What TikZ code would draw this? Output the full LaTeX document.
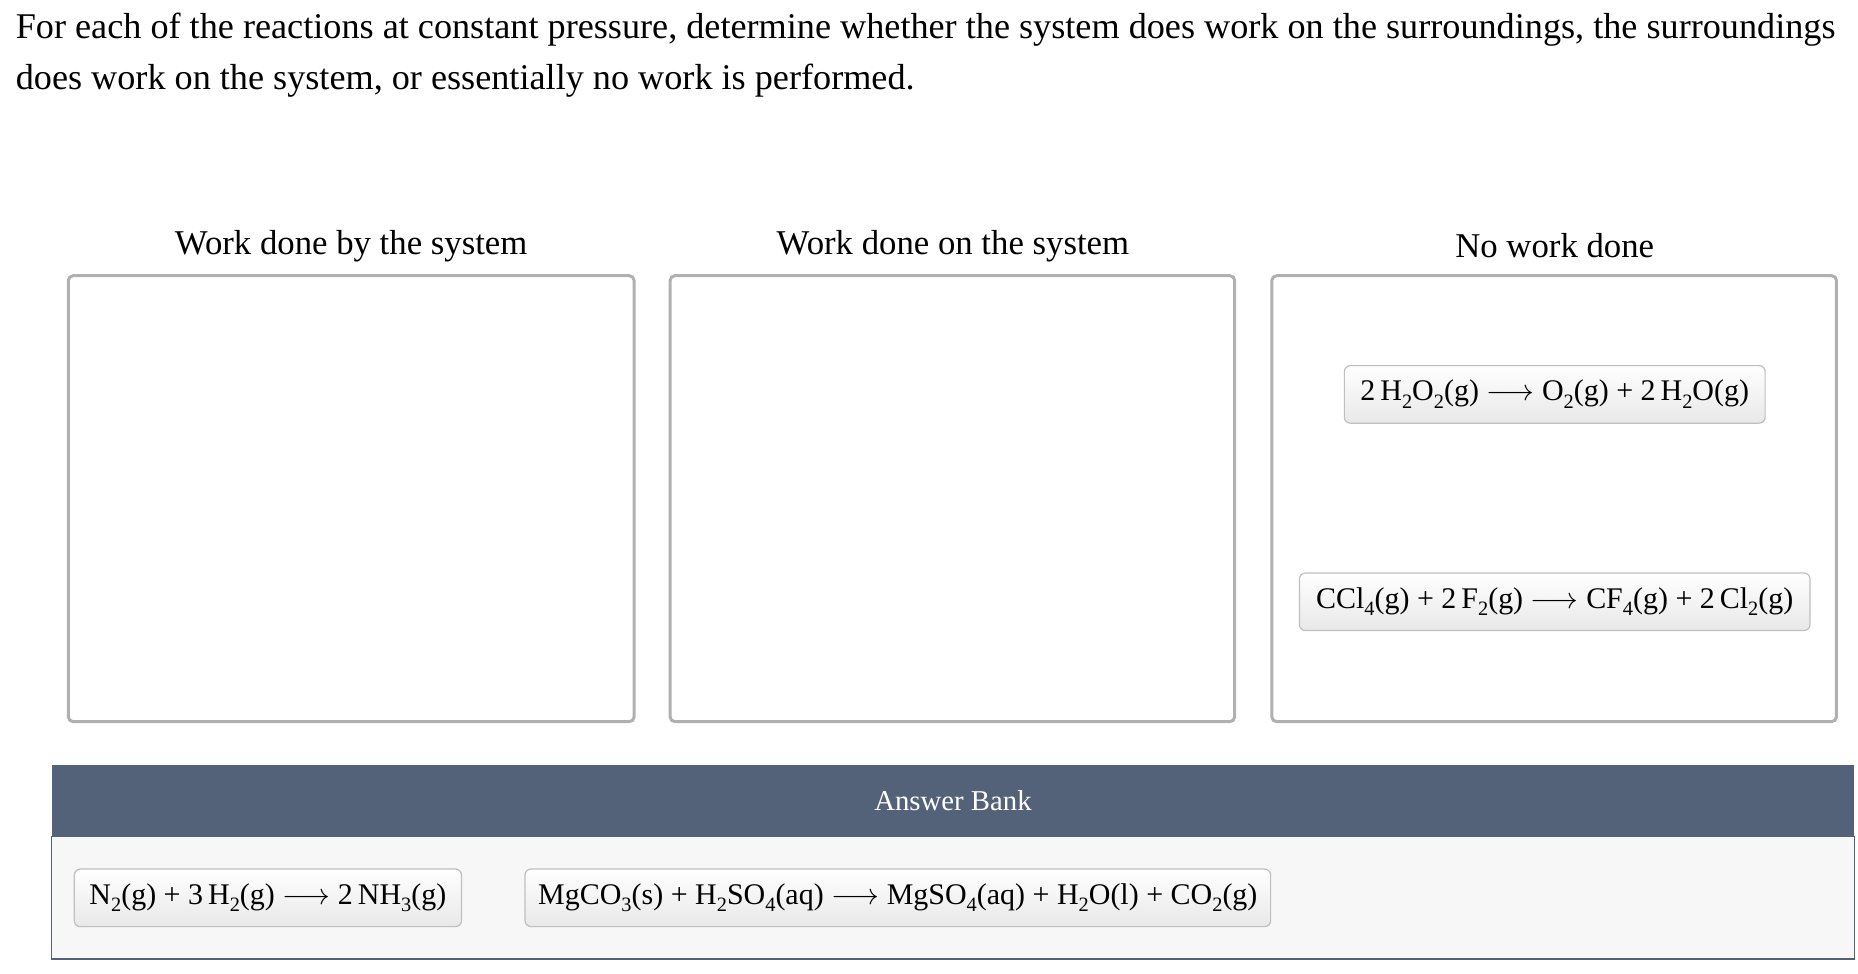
\documentclass[tikz,border=0pt]{standalone}
\usepackage{fontspec}
\setmainfont{Liberation Serif}
\newcommand{\chs}[1]{\raisebox{-0.55ex}{\fontsize{17}{17}\selectfont #1}}
\newcommand{\rarr}{\ $\longrightarrow$\ }
\newcommand{\pl}{\ +\ }
\begin{document}
\begin{tikzpicture}[x=1pt,y=-1pt,
  zone/.style={draw=black!31,line width=2.5pt,rounded corners=4pt},
  chip/.style={draw=black!25,line width=1pt,rounded corners=5pt,top color=white,bottom color=black!9,inner sep=0pt,minimum height=48pt,font=\fontsize{25}{27}\selectfont},
  head/.style={font=\fontsize{29}{31}\selectfont}]
\useasboundingbox (0,0) rectangle (1550,812);
\node[anchor=base west,font=\fontsize{30.2}{33}\selectfont,inner sep=0pt] (t1) at (13,32) {For each of the reactions at constant pressure, determine whether the system does work on the surroundings, the surroundings};
\node[anchor=base west,font=\fontsize{30.2}{33}\selectfont,inner sep=0pt] (t2) at (13,75) {does work on the system, or essentially no work is performed.};
\node[head] (h1) at (293,205) {Work done by the system};
\node[head] (h2) at (795,205) {Work done on the system};
\node[head] (h3) at (1297,205) {No work done};
\draw[zone] (57,230) rectangle (529,602);
\draw[zone] (559,230) rectangle (1030,602);
\draw[zone] (1061,230) rectangle (1532,602);
\node[chip,minimum width=351pt] (e1) at (1297,329) {2\,H\chs{2}O\chs{2}(g)\rarr O\chs{2}(g)\pl 2\,H\chs{2}O(g)};
\node[chip,minimum width=426pt] (e2) at (1297,502) {CCl\chs{4}(g)\pl 2\,F\chs{2}(g)\rarr CF\chs{4}(g)\pl 2\,Cl\chs{2}(g)};
\fill[fill={rgb,255:red,84;green,98;blue,121}] (43,638) rectangle (1547,698);
\node[text=white,font=\fontsize{24}{26}\selectfont] (ab) at (795,668) {Answer Bank};
\draw[draw={rgb,255:red,84;green,98;blue,121},fill=black!3,line width=1.2pt] (43,698) rectangle (1547,800);
\node[chip,minimum width=323pt] (b1) at (223.5,749) {N\chs{2}(g)\pl 3\,H\chs{2}(g)\rarr 2\,NH\chs{3}(g)};
\node[chip,minimum width=622pt] (b2) at (749,749) {MgCO\chs{3}(s)\pl H\chs{2}SO\chs{4}(aq)\rarr MgSO\chs{4}(aq)\pl H\chs{2}O(l)\pl CO\chs{2}(g)};
\end{tikzpicture}
\end{document}
